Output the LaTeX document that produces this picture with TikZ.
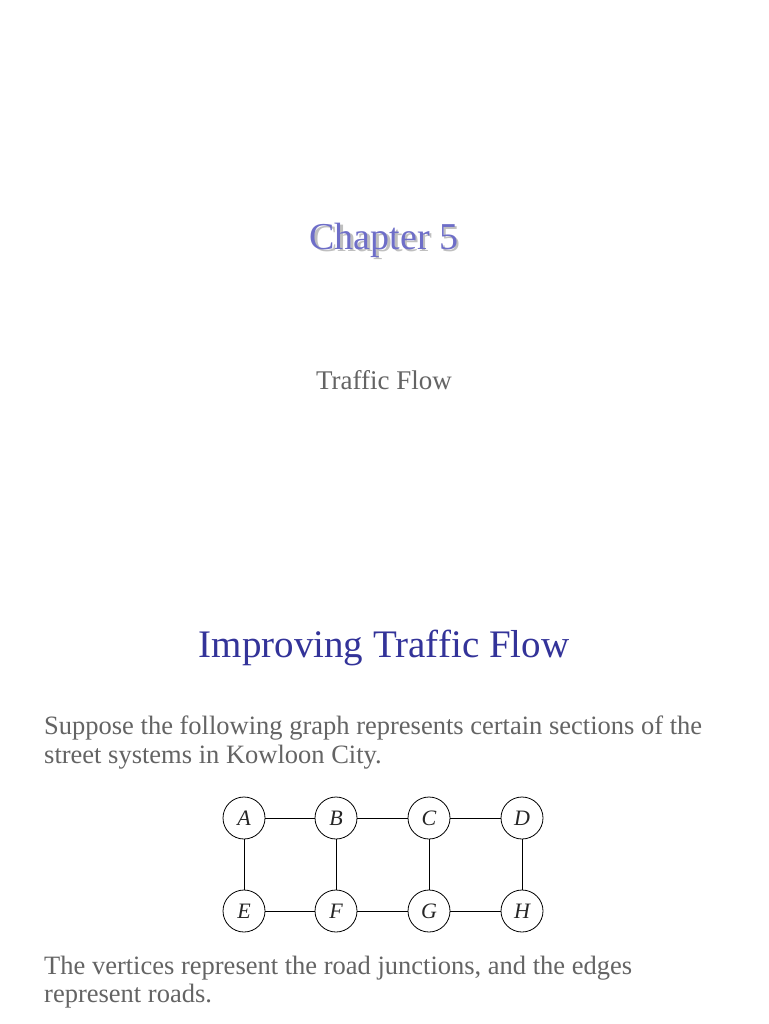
\documentclass[tikz,border=0pt]{standalone}
\usepackage{fontspec}
\setmainfont{Liberation Serif}
\definecolor{chap}{RGB}{110,110,200}
\definecolor{ttl}{RGB}{51,51,153}
\definecolor{txt}{RGB}{100,100,100}
\begin{document}
\begin{tikzpicture}[x=1pt,y=-1pt,
  vtx/.style={draw,circle,thick,minimum size=42pt,inner sep=0pt,font=\fontsize{22}{22}\selectfont\itshape,text=black!85},
  body/.style={anchor=west,inner sep=0pt,text=txt,font=\fontsize{26.5}{26.5}\selectfont}]
\useasboundingbox (0,0) rectangle (768,1024);
\fill[white] (0,0) rectangle (768,1024);
\node[text=gray!50,font=\fontsize{38}{38}\selectfont] at (386.5,242) {Chapter 5};
\node (ch) [text=chap,font=\fontsize{38}{38}\selectfont] at (384,240) {Chapter 5};
\node (tf) [text=txt,font=\fontsize{27}{27}\selectfont] at (384,380) {Traffic Flow};
\node (it) [text=ttl,font=\fontsize{39}{39}\selectfont] at (384,648) {Improving Traffic Flow};
\node (l1) [body] at (44,728) {Suppose the following graph represents certain sections of the};
\node (l2) [body] at (44,757) {street systems in Kowloon City.};
\node (l3) [body] at (44,968) {The vertices represent the road junctions, and the edges};
\node (l4) [body] at (44,996) {represent roads.};
\node[vtx] (A) at (244,818) {A};
\node[vtx] (B) at (336,818) {B};
\node[vtx] (C) at (429,818) {C};
\node[vtx] (D) at (522,818) {D};
\node[vtx] (E) at (244,911) {E};
\node[vtx] (F) at (336,911) {F};
\node[vtx] (G) at (429,911) {G};
\node[vtx] (H) at (522,911) {H};
\draw[semithick] (A)--(B) (B)--(C) (C)--(D) (E)--(F) (F)--(G) (G)--(H)
      (A)--(E) (B)--(F) (C)--(G) (D)--(H);
\end{tikzpicture}
\end{document}
